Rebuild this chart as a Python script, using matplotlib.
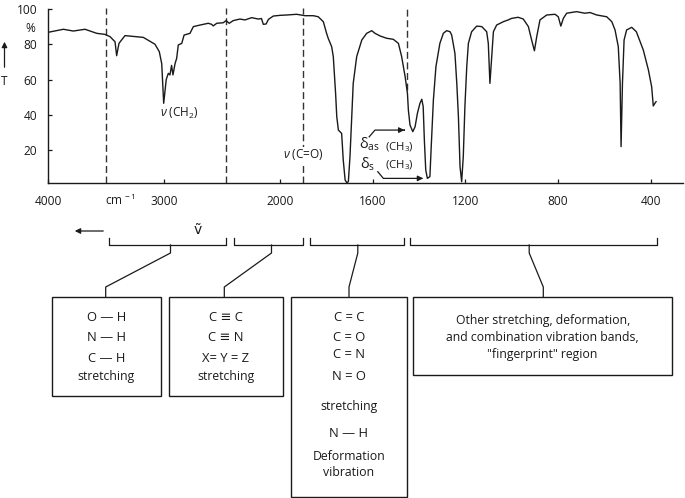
import matplotlib.pyplot as plt
import numpy as np
from matplotlib.patches import Rectangle

plt.rcParams['font.family'] = ['Open Sans', 'DejaVu Sans']
plt.rcParams['mathtext.fontset'] = 'custom'
plt.rcParams['mathtext.rm'] = 'Open Sans'
plt.rcParams['mathtext.it'] = 'Open Sans:italic'
plt.rcParams['mathtext.bf'] = 'Open Sans:bold'

# spectrum (cm-1, % transmittance)
wavenumber = [4000, 3870, 3784, 3683, 3582, 3511, 3467, 3424, 3410, 3390, 3338, 3180,
              3079, 3042, 3021, 3004, 2982, 2964, 2950, 2936, 2924, 2906, 2892, 2878,
              2848, 2828, 2777, 2748, 2690, 2619, 2590, 2576, 2546, 2490, 2466, 2438,
              2404, 2346, 2302, 2244, 2188, 2160, 2144, 2120, 2100, 2058, 2000, 1971,
              1928, 1892, 1856, 1835, 1813, 1799, 1792, 1777, 1770, 1765, 1760, 1755,
              1748, 1734, 1727, 1719, 1712, 1705, 1698, 1691, 1684, 1669, 1647, 1626,
              1604, 1590, 1568, 1540, 1511, 1489, 1475, 1460, 1450, 1446, 1439, 1427,
              1417, 1407, 1396, 1388, 1382, 1377, 1371, 1364, 1353, 1348, 1338, 1327,
              1310, 1295, 1281, 1266, 1259, 1245, 1237, 1230, 1223, 1216, 1209, 1202,
              1194, 1187, 1173, 1151, 1129, 1108, 1101, 1094, 1086, 1079, 1065, 1036,
              1015, 1000, 972, 950, 928, 914, 902, 892, 878, 849, 813, 799, 788, 777,
              763, 720, 684, 662, 633, 590, 568, 554, 540, 532, 528, 522, 515, 504,
              482, 462, 432, 410, 396, 389, 382, 377]
transmittance = [86.8, 88.5, 87.5, 88.5, 86.2, 85.6, 84.3, 81.4, 73.5, 80.5, 84.9, 83.9,
                 80.0, 75.8, 69.0, 46.5, 60.0, 63.5, 62.6, 68.0, 62.6, 69.0, 72.0, 79.6,
                 80.5, 85.2, 86.2, 90.0, 90.9, 91.9, 91.3, 90.4, 91.9, 92.2, 93.4, 91.9,
                 93.4, 94.3, 93.8, 95.1, 94.3, 94.6, 91.3, 91.5, 94.1, 96.0, 96.4, 96.6,
                 97.0, 96.2, 96.2, 95.6, 92.8, 86.2, 83.4, 78.6, 73.0, 62.0, 52.0, 38.9,
                 31.3, 29.4, 14.3, 3.0, 1.5, 2.0, 16.2, 37.0, 57.8, 73.0, 82.4, 86.2,
                 87.7, 86.2, 84.7, 83.4, 82.8, 80.5, 73.0, 61.6, 52.2, 42.7, 34.2, 30.4,
                 33.2, 40.8, 46.5, 48.8, 44.6, 25.7, 8.7, 3.9, 4.9, 20.0, 48.4, 67.3,
                 80.5, 86.2, 87.7, 87.1, 85.2, 74.8, 57.8, 38.9, 10.5, 2.0, 16.2, 44.6,
                 67.3, 80.5, 87.1, 90.3, 90.0, 87.1, 80.5, 57.8, 73.0, 87.1, 90.9, 92.8,
                 93.8, 94.7, 95.3, 94.3, 90.0, 82.4, 76.3, 84.3, 93.8, 96.6, 97.0, 95.6, 90.3, 94.7,
                 97.6, 98.5, 97.6, 98.0, 96.6, 95.6, 92.8, 88.1, 78.6, 57.8, 21.9, 57.8, 82.4, 88.1,
                 89.6, 87.1, 76.7, 65.4, 55.9, 45.0, 46.5, 47.4]

x_ticks = [4000, 3000, 2000, 1600, 1200, 800, 400]
y_ticks = [20, 40, 60, 80, 100]
region_lines = [3500, 2470, 1900, 1450]
region_line_bottom = [1.45, 1.45, 1.45, 54]
bracket_from = [3480, 2400, 1870, 1440]
bracket_to = [2470, 1900, 1465, 375]

box_text = [
    ["O — H", "N — H", "C — H", "stretching"],
    ["C ≡ C", "C ≡ N", "X= Y = Z", "stretching"],
    ["C = C", "C = O", "C = N", "N = O", "stretching", "N — H", "Deformation", "vibration"],
    ["Other stretching, deformation,", "and combination vibration bands,",
     "\"fingerprint\" region"],
]
bond_rows = [[0, 1, 2], [0, 1, 2], [0, 1, 2, 3, 5], []]


def fwd(x):
    x = np.asarray(x, dtype=float)
    return np.where(x >= 2000, 2000 + (x - 2000) / 2, x)


def inv(x):
    x = np.asarray(x, dtype=float)
    return np.where(x >= 2000, 2000 + (x - 2000) * 2, x)


W, H = 685, 498
ink = '#1a1a1a'
fig = plt.figure(figsize=(W / 100, H / 100), dpi=100)

ax = fig.add_axes([48.3 / W, 1 - 182.7 / H, (682.7 - 48.3) / W, (182.7 - 9) / H])
ax.set_xscale('function', functions=(fwd, inv))
ax.set_xlim(4000, 262)
ax.set_ylim(1.45, 100)
ax.plot(wavenumber, transmittance, color=ink, lw=1.0, zorder=3)

for nu, yb in zip(region_lines, region_line_bottom):
    ax.plot([nu, nu], [yb, 100.8], color='#333333', lw=1.0, dashes=(5, 2.6),
            clip_on=False, zorder=2)

for s in ['top', 'right']:
    ax.spines[s].set_visible(False)
for s in ['left', 'bottom']:
    ax.spines[s].set_linewidth(1.0)
    ax.spines[s].set_color(ink)
ax.set_xticks(x_ticks)
ax.set_xticklabels([str(t) for t in x_ticks])
ax.xaxis.set_minor_locator(plt.NullLocator())
ax.set_yticks(y_ticks)
ax.tick_params(axis='both', direction='in', length=3.2, width=0.9, color=ink,
               labelsize=8.6, labelcolor=ink)
ax.tick_params(axis='x', pad=9)
ax.tick_params(axis='y', pad=8)

# band labels
ax.text(3036, 41, r'$\nu$ (CH$_2$)', fontsize=8.6, ha='left', va='center', color=ink)
ax.text(1987, 17.2, r'$\nu$ (C=O)', fontsize=8.6, ha='left', va='center', color=ink,
        bbox=dict(facecolor='white', edgecolor='none', pad=0.5), zorder=4)
ax.text(1660, 23.0, r'δ$_{\mathrm{as}}$', fontsize=10.5, ha='left', va='center', color=ink)
ax.text(1547, 21.8, r'(CH$_3$)', fontsize=8.2, ha='left', va='center', color=ink)
ax.text(1655, 12.0, r'δ$_{\mathrm{s}}$', fontsize=10.5, ha='left', va='center', color=ink)
ax.text(1547, 11.2, r'(CH$_3$)', fontsize=8.2, ha='left', va='center', color=ink)
ax.plot([1615, 1590, 1470], [27.5, 31.3, 31.3], color=ink, lw=0.9)
ax.annotate('', xy=(1451, 31.3), xytext=(1475, 31.3),
            arrowprops=dict(arrowstyle='-|>', color=ink, lw=0.9, mutation_scale=8))
ax.plot([1578, 1554, 1400], [7.7, 3.9, 3.9], color=ink, lw=0.9)
ax.annotate('', xy=(1382, 3.9), xytext=(1405, 3.9),
            arrowprops=dict(arrowstyle='-|>', color=ink, lw=0.9, mutation_scale=8))

ax.text(3380, -8.5, r'cm$^{\,-1}$', fontsize=8.6, ha='center', va='center', color=ink,
        clip_on=False)

# overlay in image pixels for brackets and boxes
ov = fig.add_axes([0, 0, 1, 1], facecolor='none')
ov.set_xlim(0, W)
ov.set_ylim(H, 0)
ov.axis('off')


def px(nu):
    return ax.transData.transform((nu, 50))[0]


ov.text(30, 28, '%', fontsize=8.6, ha='center', va='center', color=ink)
ov.text(4.5, 81, 'T', fontsize=8.6, ha='center', va='center', color=ink)
ov.annotate('', xy=(4.5, 39), xytext=(4.5, 70),
            arrowprops=dict(arrowstyle='-|>', color=ink, lw=0.9, mutation_scale=8))
ov.annotate('', xy=(72, 231), xytext=(106, 231),
            arrowprops=dict(arrowstyle='-|>', color=ink, lw=0.9, mutation_scale=8))
ov.text(198, 230, 'ṽ', fontsize=10, ha='center', va='center', color=ink)

y_br, y_end, y_knee, y_diag, y_box = 245, 238, 253, 287, 297.3
stems = [170.5, 271.5, 357.8, 529.2]
joins = [105.7, 224.3, 349.0, 543.3]
boxes = [(51.7, 160.7, 396), (169.3, 282.7, 396), (291.0, 406.7, 496.8), (413.3, 672.0, 375)]
line_y = [
    [317.3, 337.3, 358.3, 376.7],
    [317.3, 337.3, 358.3, 376.7],
    [317.3, 337.3, 354.3, 376.0, 406.0, 433.3, 456.7, 472.3],
    [320.7, 337.0, 354.0],
]

for i in range(4):
    x0, x1 = px(bracket_from[i]), px(bracket_to[i])
    ov.plot([x0, x0, x1, x1], [y_end, y_br, y_br, y_end], color=ink, lw=0.9)
    ov.plot([stems[i], stems[i], joins[i], joins[i]], [y_br, y_knee, y_diag, y_box],
            color=ink, lw=0.9)
    bx0, bx1, by1 = boxes[i]
    ov.add_patch(Rectangle((bx0, y_box), bx1 - bx0, by1 - y_box, fill=False,
                           edgecolor=ink, lw=1.0))
    cx = (bx0 + bx1) / 2
    for j, (txt, yy) in enumerate(zip(box_text[i], line_y[i])):
        size = 9.4 if j in bond_rows[i] else 8.8
        ov.text(cx, yy, txt, fontsize=size, ha='center', va='center', color=ink)

fig.savefig('out.png', dpi=100)
